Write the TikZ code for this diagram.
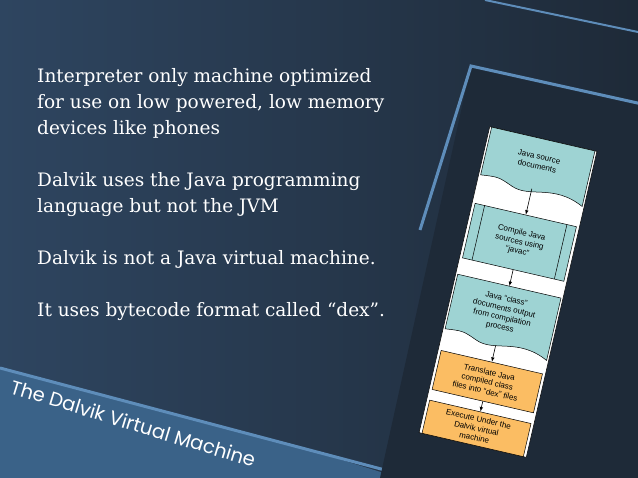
\documentclass[tikz,border=0pt]{standalone}
\usepackage{fontspec}
\setmainfont{DejaVu Serif}
\newfontfamily\titlefont{Poppins}
\newfontfamily\chartfont{Liberation Sans}
\usetikzlibrary{positioning,shadows}
\definecolor{bgdark}{HTML}{1E2A38}
\definecolor{bgmid}{HTML}{2E4560}
\definecolor{bandblue}{HTML}{3A6288}
\definecolor{edgeblue}{HTML}{5E8DBA}
\definecolor{chartteal}{HTML}{9ED3D3}
\definecolor{chartorange}{HTML}{FBBD63}
\tikzset{
  slidetext/.style={text=white,font=\fontsize{18.5}{26}\selectfont,align=left,anchor=north west,inner sep=0pt},
  charttext/.style={font=\chartfont\fontsize{8}{9.6}\selectfont,align=center,inner sep=1pt},
  flowbox/.style={charttext,draw=black,line width=0.5pt,minimum width=104pt},
  flowarrow/.style={-latex,line width=0.6pt}
}
\begin{document}
\begin{tikzpicture}[x=1pt,y=-1pt]
  \useasboundingbox (0,0) rectangle (638,478);
  % background
  \shade[left color=bgmid,right color=bgdark] (0,0) rectangle (638,478);
  \fill[bandblue] (0,368) -- (300,447) -- (400,478) -- (0,478) -- cycle;
  \draw[edgeblue,line width=3pt] (0,368) -- (400,474);
  % panel on the right
  \fill[bgdark] (471,66) -- (660,108) -- (660,478) -- (380,478) -- cycle;
  \draw[edgeblue,line width=3pt] (420,230) -- (471,66) -- (660,108);
  \draw[edgeblue,line width=2pt] (485,0) -- (638,32);
  % text
  \node[slidetext] (txt) at (37,68) {Interpreter only machine optimized\\for use on low powered, low memory\\devices like phones\\[26pt]Dalvik uses the Java programming\\language but not the JVM\\[26pt]Dalvik is not a Java virtual machine.\\[26pt]It uses bytecode format called “dex”.};
  \node[text=white,font=\titlefont\fontsize{19.5}{19.5}\selectfont,rotate=-17,anchor=west] (title) at (8,385) {The Dalvik Virtual Machine};
  % flow chart
  \begin{scope}[shift={(508,292)},rotate=-13,transform shape]
    \fill[white] (-55,-157) rectangle (55,157);
    \draw[line width=0.5pt] (-55,-157) rectangle (55,157);
    \filldraw[fill=chartteal,line width=0.5pt] (-53,-157) -- (53,-157) -- (53,-100)
      .. controls (20,-116) and (0,-96) .. (-20,-104) .. controls (-35,-110) .. (-53,-108) -- cycle;
    \node[charttext] (src) at (0,-134) {Java source\\documents};
    \node[flowbox,fill=chartteal,minimum height=56pt] (javac) at (0,-51) {Compile Java\\sources using\\“javac”};
    \draw[line width=0.5pt] (javac.north west) ++(10,0) -- ++(0,56);
    \draw[line width=0.5pt] (javac.north east) ++(-10,0) -- ++(0,56);
    \filldraw[fill=chartteal,line width=0.5pt] (-53,-6) -- (53,-6) -- (53,58)
      .. controls (20,42) and (0,62) .. (-20,54) .. controls (-35,48) .. (-53,50) -- cycle;
    \node[charttext] (class) at (0,22) {Java “class”\\documents output\\from compilation\\process};
    \node[flowbox,fill=chartorange,minimum height=40pt] (dex) at (0,92) {Translate Java\\compiled class\\files into “dex” files};
    \node[flowbox,fill=chartorange,minimum height=34pt] (exec) at (0,140) {Execute Under the\\Dalvik virtual\\machine};
    \coordinate (srcbot) at (0,-106);
    \coordinate (classbot) at (0,55);
    \draw[flowarrow] (srcbot) -- (javac.north);
    \draw[flowarrow] (javac.south) -- (0,-6);
    \draw[flowarrow] (classbot) -- (dex.north);
    \draw[flowarrow] (dex.south) -- (exec.north);
  \end{scope}
\end{tikzpicture}
\end{document}
